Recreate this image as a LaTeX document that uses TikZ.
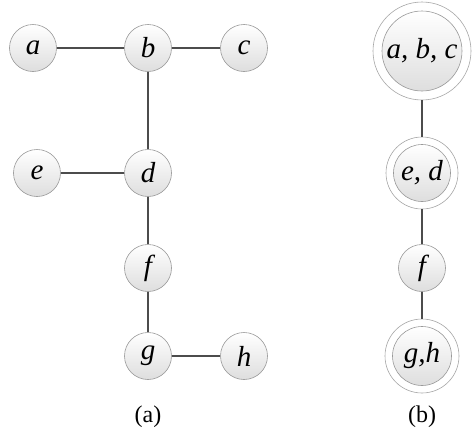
\documentclass[tikz,border=0pt]{standalone}
\usepackage{fontspec}
\setmainfont{Liberation Serif}
\begin{document}
\begin{tikzpicture}[x=1pt,y=-1pt,
  vert/.style={circle,draw=black!40,line width=0.6pt,top color=white,bottom color=black!13,
    minimum size=#1,inner sep=0pt,font=\fontsize{29}{29}\selectfont\itshape},
  vert/.default=47pt,
  ring/.style={circle,draw=black!35,line width=0.6pt,fill=white,minimum size=#1,inner sep=0pt},
  edge/.style={draw=black!70,line width=1.1pt},
  sublabel/.style={font=\fontsize{24}{24}\selectfont}]
\useasboundingbox (0,0) rectangle (474,434);
% left graph
\node[vert] (a) at (33,48) {a};
\node[vert] (b) at (148,48) {b};
\node[vert] (c) at (244,48) {c};
\node[vert] (e) at (37,173) {e};
\node[vert] (d) at (148,173) {d};
\node[vert] (f) at (148,268) {f};
\node[vert] (g) at (148,356) {g};
\node[vert] (h) at (244,356) {h};
\draw[edge] (a) -- (b);
\draw[edge] (b) -- (c);
\draw[edge] (b) -- (d);
\draw[edge] (e) -- (d);
\draw[edge] (d) -- (f);
\draw[edge] (f) -- (g);
\draw[edge] (g) -- (h);
\node[sublabel] (la) at (148,417) {(a)};
% right graph
\node[ring=98pt] (abco) at (422,51) {};
\node[vert=80pt] (abc) at (422,51) {a, b, c};
\node[ring=72pt] (edo) at (422,173) {};
\node[vert=57pt] (ed) at (422,173) {e, d};
\node[vert] (f2) at (422,268) {f};
\node[ring=74pt] (gho) at (422,356) {};
\node[vert=59pt] (gh) at (422,356) {g,h};
\draw[edge] (abco) -- (edo);
\draw[edge] (edo) -- (f2);
\draw[edge] (f2) -- (gho);
\node[sublabel] (lb) at (422,417) {(b)};
\end{tikzpicture}
\end{document}
